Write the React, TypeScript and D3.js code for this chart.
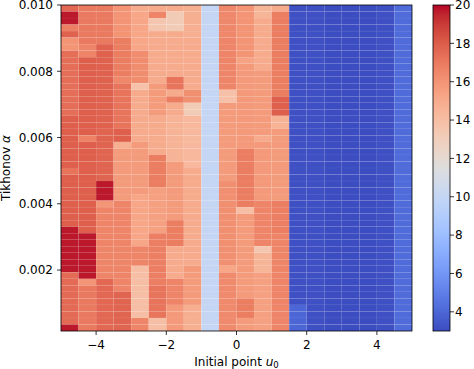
import React, { useEffect, useRef } from 'react';
import * as d3 from 'd3';

// columns are 0.5 wide in u0, from -5 to 5; every column is a list of
// [number of rows, value] runs, read from the top row (alpha = 0.01) down
const uEdges = [-5, 5];
const alphaRange = [0.00016, 0.01];
const nRows = 50;

const col0 = [[1, 17.6], [2, 19.7], [1, 16.8], [1, 17.8], [2, 16.0], [10, 17.4], [8, 17.9], [1, 17.2], [8, 17.9], [7, 19.7], [8, 17.5], [1, 19.7]];
const col1 = [[6, 17.0], [2, 16.6], [12, 17.9], [1, 16.7], [14, 17.9], [7, 19.7], [1, 15.9], [7, 17.0]];
const col2 = [[6, 17.0], [13, 17.8], [8, 17.7], [3, 19.7], [1, 15.9], [11, 16.6], [8, 17.6]];
const col3 = [[5, 16.0], [6, 16.9], [1, 16.5], [7, 17.2], [2, 17.9], [1, 14.8], [8, 15.7], [14, 16.6], [6, 17.7]];
const col4 = [[1, 15.0], [6, 15.2], [5, 16.3], [1, 13.8], [8, 15.0], [8, 15.7], [8, 15.2], [3, 16.6], [8, 14.0], [2, 16.6]];
const col5 = [[1, 15.0], [1, 16.6], [2, 13.5], [8, 15.0], [5, 15.7], [6, 15.0], [5, 16.9], [7, 15.5], [8, 16.8], [5, 17.2], [2, 14.0]];
const col6 = [[1, 15.0], [3, 13.2], [7, 15.0], [2, 17.2], [1, 15.0], [1, 16.9], [2, 15.0], [7, 14.6], [9, 15.7], [4, 16.9], [5, 15.0], [4, 16.6], [4, 15.8]];
const col7 = [[5, 14.8], [8, 15.0], [2, 16.2], [2, 13.2], [8, 14.3], [15, 15.0], [6, 15.7], [4, 14.8]];
const col8 = [[50, 10.0]];
const col9 = [[5, 16.5], [8, 16.6], [2, 13.8], [12, 15.7], [13, 16.2], [1, 15.2], [9, 16.4]];
const col10 = [[8, 16.0], [1, 15.4], [13, 15.8], [9, 16.9], [1, 14.0], [13, 15.7], [3, 16.9], [2, 15.7]];
const col11 = [[2, 14.5], [8, 15.0], [10, 15.7], [1, 15.0], [9, 15.8], [7, 16.6], [1, 13.5], [3, 14.5], [9, 15.5]];
const col12 = [[1, 15.0], [13, 16.9], [3, 17.9], [2, 14.6], [11, 15.7], [5, 16.8], [15, 16.6]];
const col13 = [[46, 3.15], [4, 4.0]];
const col14 = [[50, 3.15]];
const col15 = [[50, 3.05]];
const col16 = [[50, 3.05]];
const col17 = [[50, 3.05]];
const col18 = [[50, 3.15]];
const col19 = [[50, 4.2]];

const columns = [col0, col1, col2, col3, col4, col5, col6, col7, col8, col9,
  col10, col11, col12, col13, col14, col15, col16, col17, col18, col19];

const xTicks = [-4, -2, 0, 2, 4];
const yTicks = [0.002, 0.004, 0.006, 0.008, 0.010];
const cbarTicks = [4, 6, 8, 10, 12, 14, 16, 18, 20];
const cbarRange = [3, 20];

// matplotlib coolwarm (Moreland), 33 samples
const coolwarm = [
  '#3b4cc0', '#445acc', '#4d68d7', '#5775e1', '#6282ea', '#6c8ef1', '#779af7', '#82a5fb',
  '#8db0fe', '#98b9ff', '#a3c2ff', '#aec9fd', '#b8d0f9', '#c2d5f4', '#ccd9ee', '#d5dbe6',
  '#dddddd', '#e5d8d1', '#ecd3c5', '#f1cdba', '#f5c4ac', '#f7bba0', '#f7b194', '#f7a688',
  '#f49a7b', '#f18d6f', '#ec7f63', '#e57058', '#de604d', '#d55042', '#cb3e38', '#c0282f',
  '#b40426'
];

const W = 474;
const H = 369;
const m = { left: 61, right: 412, top: 5, bottom: 331 };
const cb = { left: 433, right: 450 };
const font = 'DejaVu Sans, sans-serif';

const App: React.FC = () => {
  const svgRef = useRef(null);

  useEffect(() => {
    const svg = d3.select(svgRef.current);
    svg.selectAll('*').remove();

    const x = d3.scaleLinear().domain(uEdges).range([m.left, m.right]);
    const y = d3.scaleLinear().domain(alphaRange).range([m.bottom, m.top]);
    const t = d3.scaleLinear()
      .domain(d3.range(coolwarm.length).map(i => i / (coolwarm.length - 1)))
      .range(coolwarm as any)
      .interpolate(d3.interpolateRgb as any);
    const norm = d3.scaleLinear().domain(cbarRange).range([0, 1]).clamp(true);
    const color = (v: number) => t(norm(v)) as unknown as string;

    const nCols = columns.length;
    const du = (uEdges[1] - uEdges[0]) / nCols;
    const da = (alphaRange[1] - alphaRange[0]) / nRows;

    const cells: { u0: number, a0: number, v: number }[] = [];
    columns.forEach((runs, ci) => {
      let row = 0;
      runs.forEach(([n, v]) => {
        for (let k = 0; k < n; k++) {
          cells.push({ u0: uEdges[0] + ci * du, a0: alphaRange[1] - (row + 1) * da, v });
          row++;
        }
      });
    });

    svg.append('g')
      .selectAll('rect')
      .data(cells)
      .enter()
      .append('rect')
      .attr('x', d => x(d.u0))
      .attr('y', d => y(d.a0 + da))
      .attr('width', d => x(d.u0 + du) - x(d.u0))
      .attr('height', d => y(d.a0) - y(d.a0 + da))
      .attr('fill', d => color(d.v))
      .attr('stroke', '#ffffff')
      .attr('stroke-opacity', 0.06)
      .attr('stroke-width', 0.5);

    svg.append('rect')
      .attr('x', m.left).attr('y', m.top)
      .attr('width', m.right - m.left).attr('height', m.bottom - m.top)
      .attr('fill', 'none').attr('stroke', '#000').attr('stroke-width', 0.8);

    // x axis
    const gx = svg.append('g');
    xTicks.forEach(v => {
      gx.append('line')
        .attr('x1', x(v)).attr('x2', x(v))
        .attr('y1', m.bottom).attr('y2', m.bottom + 4)
        .attr('stroke', '#000').attr('stroke-width', 0.8);
      gx.append('text')
        .attr('x', x(v)).attr('y', m.bottom + 18)
        .attr('text-anchor', 'middle')
        .attr('font-family', font).attr('font-size', 12)
        .text(v < 0 ? '\u2212' + Math.abs(v) : String(v));
    });
    const xl = svg.append('text')
      .attr('x', (m.left + m.right) / 2).attr('y', 366)
      .attr('text-anchor', 'middle')
      .attr('font-family', font).attr('font-size', 12);
    xl.append('tspan').text('Initial point ');
    xl.append('tspan').attr('font-style', 'italic').text('u');
    xl.append('tspan').attr('font-size', 8.5).attr('dy', 2).text('0');

    // y axis
    const gy = svg.append('g');
    yTicks.forEach(v => {
      gy.append('line')
        .attr('x1', m.left - 4).attr('x2', m.left)
        .attr('y1', y(v)).attr('y2', y(v))
        .attr('stroke', '#000').attr('stroke-width', 0.8);
      gy.append('text')
        .attr('x', m.left - 8).attr('y', y(v) + 4.3)
        .attr('text-anchor', 'end')
        .attr('font-family', font).attr('font-size', 12)
        .text(d3.format('.3f')(v));
    });
    const yl = svg.append('text')
      .attr('transform', `translate(10,${(m.top + m.bottom) / 2}) rotate(-90)`)
      .attr('text-anchor', 'middle')
      .attr('font-family', font).attr('font-size', 12);
    yl.append('tspan').text('Tikhonov ');
    yl.append('tspan').attr('font-style', 'italic').text('\u03b1');

    // colorbar
    const defs = svg.append('defs');
    const grad = defs.append('linearGradient')
      .attr('id', 'cbar').attr('x1', 0).attr('y1', 1).attr('x2', 0).attr('y2', 0);
    d3.range(0, 1.0001, 1 / 64).forEach(f => {
      grad.append('stop').attr('offset', f).attr('stop-color', t(f) as unknown as string);
    });
    const cy = d3.scaleLinear().domain(cbarRange).range([m.bottom, m.top]);
    svg.append('rect')
      .attr('x', cb.left).attr('y', m.top)
      .attr('width', cb.right - cb.left).attr('height', m.bottom - m.top)
      .attr('fill', 'url(#cbar)')
      .attr('stroke', '#000').attr('stroke-width', 0.8);
    cbarTicks.forEach(v => {
      svg.append('line')
        .attr('x1', cb.right).attr('x2', cb.right + 4)
        .attr('y1', cy(v)).attr('y2', cy(v))
        .attr('stroke', '#000').attr('stroke-width', 0.8);
      svg.append('text')
        .attr('x', cb.right + 5).attr('y', cy(v) + 4.3)
        .attr('font-family', font).attr('font-size', 12)
        .text(String(v));
    });
  }, []);

  return (
    <svg ref={svgRef} width={W} height={H}
      style={{ position: 'absolute', left: 0, top: 0, background: '#fff' }} />
  );
};

export default App;
